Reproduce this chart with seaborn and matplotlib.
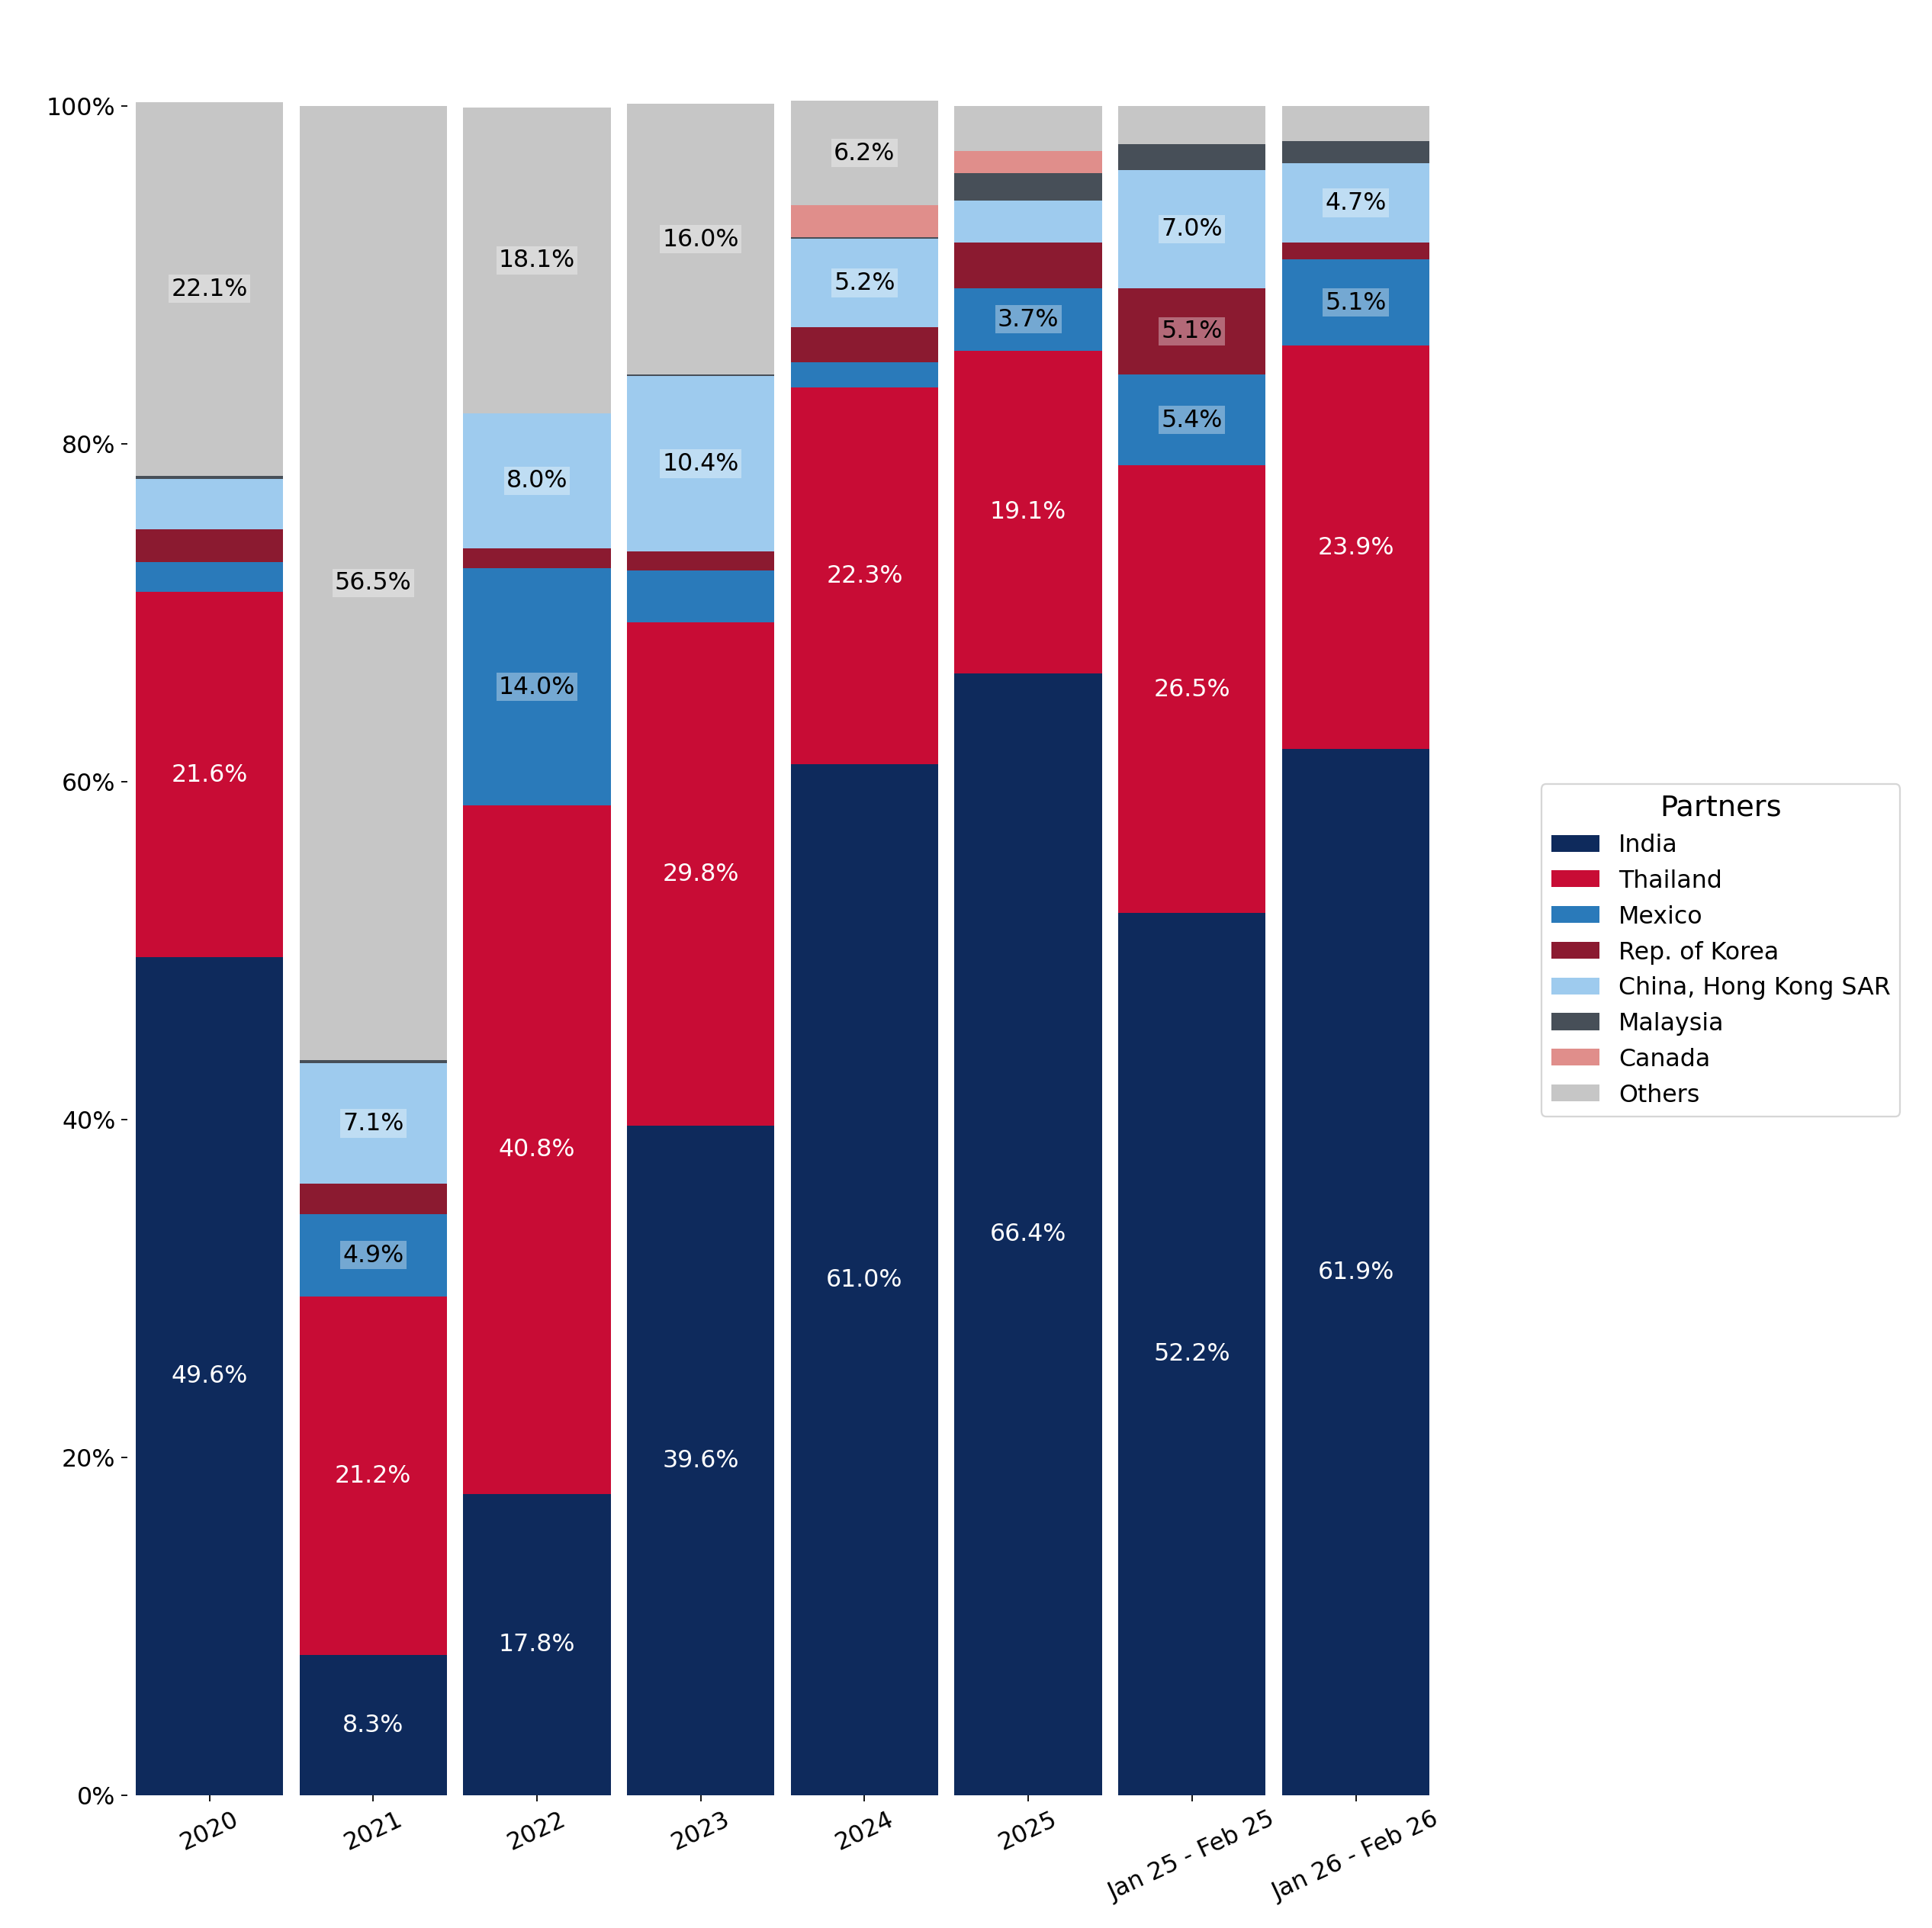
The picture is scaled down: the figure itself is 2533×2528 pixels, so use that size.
import numpy as np
import pandas as pd
import matplotlib.pyplot as plt
import seaborn as sns

periods = ['2020', '2021', '2022', '2023', '2024', '2025', 'Jan 25 - Feb 25', 'Jan 26 - Feb 26']
partners = ['India', 'Thailand', 'Mexico', 'Rep. of Korea', 'China, Hong Kong SAR', 'Malaysia', 'Canada', 'Others']

india    = [49.6, 8.3, 17.8, 39.6, 61.0, 66.4, 52.2, 61.9]
thailand = [21.6, 21.2, 40.8, 29.8, 22.3, 19.1, 26.5, 23.9]
mexico   = [1.8, 4.9, 14.0, 3.1, 1.5, 3.7, 5.4, 5.1]
korea    = [1.9, 1.8, 1.2, 1.1, 2.1, 2.7, 5.1, 1.0]
hongkong = [3.0, 7.1, 8.0, 10.4, 5.2, 2.5, 7.0, 4.7]
malaysia = [0.2, 0.2, 0.0, 0.1, 0.1, 1.6, 1.5, 1.3]
canada   = [0.0, 0.0, 0.0, 0.0, 1.9, 1.3, 0.0, 0.0]
others   = [22.1, 56.5, 18.1, 16.0, 6.2, 2.7, 2.3, 2.1]

colors = ['#0e2a5c', '#c80c35', '#2a7aba', '#8b1a30', '#9ecbee', '#474f58', '#e08e8b', '#c6c6c6']
series = [india, thailand, mexico, korea, hongkong, malaysia, canada, others]

fig = plt.figure(figsize=(15.6, 15.57), dpi=162.4)
ax = fig.add_axes([0.066, 0.069, 0.678, 0.876])

bottom = np.zeros(len(periods))
for nome, vals, cor in zip(partners, series, colors):
    vals = np.array(vals) / 100
    sns.barplot(x=periods, y=vals, bottom=bottom, color=cor, width=0.9, label=nome, ax=ax, saturation=1)
    for i, v in enumerate(vals):
        if v >= 0.035:
            y = bottom[i] + v / 2
            if nome in ('India', 'Thailand'):
                ax.text(i, y, f'{v*100:.1f}%', ha='center', va='center', color='white', fontsize=14)
            else:
                ax.text(i, y, f'{v*100:.1f}%', ha='center', va='center', color='black', fontsize=14,
                        bbox=dict(boxstyle='square,pad=0.1', facecolor='white', alpha=0.35, edgecolor='none'))
    bottom += vals

ax.set_xlim(-0.5, 7.5)
ax.set_ylim(0, 1.0)
ax.set_yticks([0, 0.2, 0.4, 0.6, 0.8, 1.0])
ax.set_yticklabels(['0%', '20%', '40%', '60%', '80%', '100%'], fontsize=14)
plt.xticks(rotation=25, fontsize=14)
for p in ax.patches:
    p.set_clip_on(False)
sns.despine(ax=ax, left=True, bottom=True)
ax.set_xlabel('')
ax.set_ylabel('')

ax.legend(title='Partners', loc='center left', bbox_to_anchor=(1.07, 0.5), fontsize=14, title_fontsize=17)

fig.savefig('out.png', dpi=162.4)
